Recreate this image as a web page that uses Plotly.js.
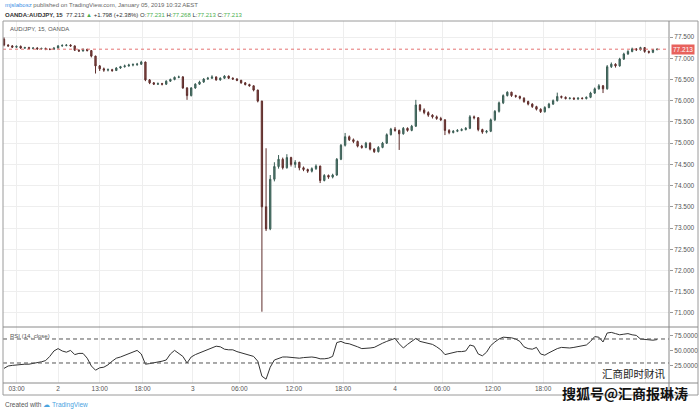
<!DOCTYPE html>
<html><head><meta charset="utf-8">
<script src="https://cdn.plot.ly/plotly-3.0.1.min.js"></script>
<style>html,body{margin:0;padding:0;background:#fff;}#chart{width:700px;height:413px;}</style>
</head><body><div id="chart"></div>
<script>
const openP = [77.45,77.31,77.29,77.26,77.28,77.24,77.25,77.23,77.24,77.22,77.23,77.21,77.21,77.24,77.29,77.30,77.31,77.29,77.19,77.17,
77.21,77.18,77.05,76.82,76.75,76.72,76.73,76.71,76.77,76.80,76.82,76.84,76.85,76.86,76.91,76.49,76.42,76.39,76.40,76.39,
76.46,76.50,76.55,76.56,76.30,76.12,76.30,76.39,76.44,76.51,76.53,76.56,76.49,76.53,76.58,76.53,76.51,76.48,76.42,76.38,
76.35,76.25,75.99,73.50,72.98,74.15,74.45,74.62,74.42,74.66,74.50,74.55,74.42,74.38,74.34,74.40,74.46,74.12,74.24,74.20,
74.25,74.62,74.95,75.15,75.08,75.04,74.93,74.90,75.00,74.86,74.80,74.90,75.00,75.20,75.33,75.30,75.22,75.35,75.30,75.40,
75.90,75.78,75.72,75.66,75.62,75.58,75.55,75.30,75.25,75.28,75.30,75.32,75.35,75.62,75.60,75.32,75.26,75.28,75.55,75.75,
75.95,76.12,76.20,76.12,76.10,76.06,75.98,75.92,75.86,75.80,75.74,75.84,75.92,76.00,76.10,76.08,76.05,76.06,76.04,76.06,
76.05,76.08,76.18,76.28,76.35,76.28,76.80,76.86,76.82,76.98,77.10,77.16,77.22,77.20,77.25,77.16,77.14,77.20];
const highP = [77.49,77.33,77.31,77.30,77.30,77.27,77.27,77.26,77.26,77.25,77.25,77.23,77.26,77.31,77.33,77.33,77.33,77.30,77.21,77.23,
77.22,77.19,77.06,76.84,76.78,76.76,76.75,76.79,76.82,76.85,76.87,76.88,76.89,76.94,76.92,76.51,76.44,76.43,76.42,76.48,
76.52,76.57,76.59,76.58,76.32,76.32,76.41,76.47,76.53,76.56,76.60,76.57,76.55,76.60,76.59,76.55,76.53,76.49,76.44,76.40,
76.36,76.26,76.00,74.88,74.25,74.55,74.72,74.66,74.74,74.68,74.60,74.56,74.45,74.40,74.43,74.50,74.47,74.27,74.26,74.28,
74.65,74.98,75.24,75.18,75.11,75.06,74.96,75.03,75.02,74.88,74.93,75.03,75.23,75.36,75.38,75.32,75.38,75.37,75.43,76.02,
75.92,75.82,75.75,75.68,75.65,75.62,75.56,75.33,75.31,75.33,75.35,75.38,75.66,75.65,75.61,75.34,75.31,75.58,75.78,75.98,
76.15,76.22,76.21,76.14,76.12,76.08,76.00,75.94,75.88,75.82,75.87,75.95,76.03,76.19,76.12,76.10,76.08,76.08,76.08,76.08,
76.10,76.21,76.31,76.39,76.37,76.84,76.90,76.88,77.01,77.13,77.19,77.25,77.24,77.27,77.26,77.18,77.22,77.23];
const lowP = [77.28,77.27,77.24,77.24,77.22,77.22,77.21,77.21,77.20,77.20,77.19,77.19,77.20,77.23,77.27,77.28,77.27,77.17,77.15,77.16,
77.16,77.02,76.64,76.70,76.68,76.69,76.68,76.70,76.75,76.78,76.80,76.81,76.82,76.84,76.46,76.39,76.37,76.37,76.36,76.37,
76.44,76.48,76.53,76.28,76.02,76.10,76.28,76.37,76.42,76.49,76.51,76.47,76.47,76.51,76.51,76.49,76.46,76.40,76.36,76.33,
76.22,75.96,71.03,72.93,72.95,74.10,74.40,74.38,74.40,74.45,74.42,74.36,74.34,74.30,74.31,74.37,74.06,74.10,74.16,74.17,
74.23,74.60,74.92,75.05,75.00,74.90,74.87,74.88,74.83,74.77,74.78,74.88,74.98,75.18,75.27,74.84,75.20,75.27,75.28,75.38,
75.74,75.68,75.62,75.58,75.55,75.52,75.19,75.21,75.23,75.26,75.28,75.30,75.33,75.56,75.28,75.22,75.23,75.26,75.52,75.72,
75.92,76.10,76.09,76.07,76.03,75.95,75.89,75.83,75.77,75.71,75.72,75.82,75.90,75.98,76.05,76.03,76.03,76.02,76.02,76.03,
76.03,76.06,76.16,76.26,76.18,76.26,76.77,76.78,76.80,76.96,77.08,77.14,77.17,77.18,77.13,77.11,77.12,77.19];
const closeP = [77.31,77.29,77.26,77.28,77.24,77.25,77.23,77.24,77.22,77.23,77.21,77.21,77.24,77.29,77.30,77.31,77.29,77.19,77.17,77.21,
77.18,77.05,76.82,76.75,76.72,76.73,76.71,76.77,76.80,76.82,76.84,76.85,76.86,76.91,76.49,76.42,76.39,76.40,76.39,76.46,
76.50,76.55,76.56,76.30,76.12,76.30,76.39,76.44,76.51,76.53,76.56,76.49,76.53,76.58,76.53,76.51,76.48,76.42,76.38,76.35,
76.25,75.99,73.50,72.98,74.15,74.45,74.62,74.42,74.66,74.50,74.55,74.42,74.38,74.34,74.40,74.46,74.12,74.24,74.20,74.25,
74.62,74.95,75.15,75.08,75.04,74.93,74.90,75.00,74.86,74.80,74.90,75.00,75.20,75.33,75.30,75.22,75.35,75.30,75.40,75.90,
75.78,75.72,75.66,75.62,75.58,75.55,75.30,75.25,75.28,75.30,75.32,75.35,75.62,75.60,75.32,75.26,75.28,75.55,75.75,75.95,
76.12,76.20,76.12,76.10,76.06,75.98,75.92,75.86,75.80,75.74,75.84,75.92,76.00,76.10,76.08,76.05,76.06,76.04,76.06,76.05,
76.08,76.18,76.28,76.35,76.28,76.80,76.86,76.82,76.98,77.10,77.16,77.22,77.20,77.25,77.16,77.14,77.20,77.213];
const rsiVals = [21,25,26,27,27,28,28,29,30,32,34,41,50,54,50,48,51,44,46,46,
38,25,18,22,23,27,33,38,40,43,46,48,51,45,28,29,30,31,33,35,
45,51,46,41,30,40,44,47,50,53,56,58,57,53,52,52,49,47,44,42,
41,33,8,3,23,35,38,40,40,39,38,38,39,40,40,39,37,37,38,41,
64,66,63,62,60,57,54,54,55,56,60,63,66,68,71,62,55,61,66,71,
66,64,63,61,57,52,44,46,48,49,49,50,60,58,45,42,48,59,65,70,
73,73,72,70,66,57,54,53,56,45,43,47,51,54,56,55,55,56,57,58,
60,66,74,73,65,80,81,79,77,78,79,77,76,70,69,68,68,69];
const tickIdx = [3.03,13.0,23.0,33.3,45.4,56.6,69.7,81.5,94.0,105.3,117.5,129.6,142.1,154.1];
const tickText = ['03:00','2','13:00','18:00','3','06:00','12:00','18:00','4','06:00','12:00','18:00','',''];
const lastPrice = 77.213;
const rsiUpper = 70, rsiLower = 30;

const idx = closeP.map((_, i) => i);

const traces = [
  {type:'candlestick', x:idx, open:openP, high:highP, low:lowP, close:closeP, xaxis:'x', yaxis:'y',
   increasing:{line:{color:'#3b5e55', width:1}, fillcolor:'#527f72'},
   decreasing:{line:{color:'#5e2d2b', width:1}, fillcolor:'#8d4a46'},
   whiskerwidth:0, hoverinfo:'skip'},
  {type:'scatter', mode:'lines', x:idx, y:rsiVals, xaxis:'x', yaxis:'y2',
   line:{color:'#333', width:1}, hoverinfo:'skip'}
];

const PH = 362;
const py = p => (383 - p) / PH;
const px = p => (p - 3) / 666;
const FONT = 'Liberation Sans, Arial, sans-serif';

const layout = {
  width:700, height:413,
  margin:{l:3, r:31, t:21, b:30},
  paper_bgcolor:'#fff', plot_bgcolor:'#fff',
  showlegend:false, boxgap:0.55,
  font:{family:FONT, size:7, color:'#555'},
  xaxis:{range:[-0.24,159.86], anchor:'y2', tickvals:tickIdx, ticktext:tickText,
    showgrid:true, gridcolor:'#eeeeee', gridwidth:1, zeroline:false, showline:false, ticks:'',
    tickfont:{size:6.5, color:'#555', family:FONT}, rangeslider:{visible:false}, fixedrange:true},
  yaxis:{domain:[0.1547,1], range:[70.67,77.877], side:'right', dtick:0.5, tick0:71, tickformat:'.3f',
    showgrid:true, gridcolor:'#eeeeee', zeroline:false, ticks:'outside', ticklen:3, tickcolor:'#999',
    tickfont:{size:6.5, color:'#555', family:FONT}, showline:false, fixedrange:true},
  yaxis2:{domain:[0,0.1547], range:[-3.33,90], side:'right', tickvals:[25,50,75],
    ticktext:['25.0000','50.0000','75.0000'], showgrid:false, zeroline:false, ticks:'outside', ticklen:3,
    tickcolor:'#999', tickfont:{size:6.5, color:'#555', family:FONT}, fixedrange:true},
  shapes:[
    {type:'line', xref:'paper', yref:'y', x0:0, x1:1, y0:lastPrice, y1:lastPrice, line:{color:'#e57373', width:1, dash:'dot'}},
    {type:'line', xref:'paper', yref:'y2', x0:0, x1:1, y0:rsiUpper, y1:rsiUpper, line:{color:'#555', width:1, dash:'4px,3px'}},
    {type:'line', xref:'paper', yref:'y2', x0:0, x1:1, y0:rsiLower, y1:rsiLower, line:{color:'#555', width:1, dash:'4px,3px'}},
    {type:'rect', xref:'paper', yref:'paper', x0:0, x1:px(698), y0:py(395), y1:1, line:{color:'#9a9a9a', width:1}},
    {type:'line', xref:'paper', yref:'paper', x0:0, x1:px(698), y0:py(327), y1:py(327), line:{color:'#8a8a8a', width:1}},
    {type:'line', xref:'paper', yref:'paper', x0:0, x1:px(698), y0:0, y1:0, line:{color:'#8a8a8a', width:1}},
    {type:'line', xref:'paper', yref:'paper', x0:1, x1:1, y0:py(395), y1:1, line:{color:'#8a8a8a', width:1}}
  ],
  annotations:[
    {xref:'paper', yref:'paper', x:0, y:py(5), xanchor:'left', yanchor:'middle', showarrow:false,
     text:"<span style='color:#3a8ee6'>mjslabosz</span> published on TradingView.com, January 05, 2019 10:32 AEST",
     font:{size:6, color:'#666', family:FONT}},
    {xref:'paper', yref:'paper', x:0, y:py(14.5), xanchor:'left', yanchor:'middle', showarrow:false,
     text:"<b>OANDA:AUDJPY, 15</b>  77.213 <span style='color:#4caf50'>▲</span> +1.798 (+2.38%) O:<span style='color:#4caf50'>77.231</span> H:<span style='color:#4caf50'>77.268</span> L:<span style='color:#4caf50'>77.213</span> C:<span style='color:#4caf50'>77.213</span>",
     font:{size:6, color:'#333', family:FONT}},
    {xref:'paper', yref:'paper', x:px(8), y:py(29), xanchor:'left', yanchor:'middle', showarrow:false,
     text:'AUD/JPY, 15, OANDA', font:{size:6, color:'#555', family:FONT}},
    {xref:'paper', yref:'paper', x:px(8), y:py(335.5), xanchor:'left', yanchor:'middle', showarrow:false,
     text:'RSI (14, close)', font:{size:6, color:'#555', family:FONT}},
    {xref:'paper', yref:'y', x:px(671), y:lastPrice, xanchor:'left', yanchor:'middle', showarrow:false,
     text:'77.213', bgcolor:'#e8625d', borderpad:1, font:{size:6.5, color:'#fff', family:FONT}},
    {xref:'paper', yref:'paper', x:0, y:py(405), xanchor:'left', yanchor:'middle', showarrow:false,
     text:"Created with <span style='color:#4aa3df'>☁ TradingView</span>", font:{size:6.5, color:'#555', family:FONT}},
    {xref:'paper', yref:'paper', x:px(668), y:py(373), xanchor:'right', yanchor:'middle', showarrow:false,
     text:'汇商即时财讯', font:{size:10.5, color:'#222', family:'Noto Sans CJK SC'}},
    {xref:'paper', yref:'paper', x:px(690), y:py(393), xanchor:'right', yanchor:'middle', showarrow:false,
     text:'<b>搜狐号@汇商报琳涛</b>', font:{size:14, color:'#111', family:'Noto Sans CJK SC'}}
  ]
};

Plotly.newPlot('chart', traces, layout, {staticPlot:true, displayModeBar:false});
</script>
</body></html>
